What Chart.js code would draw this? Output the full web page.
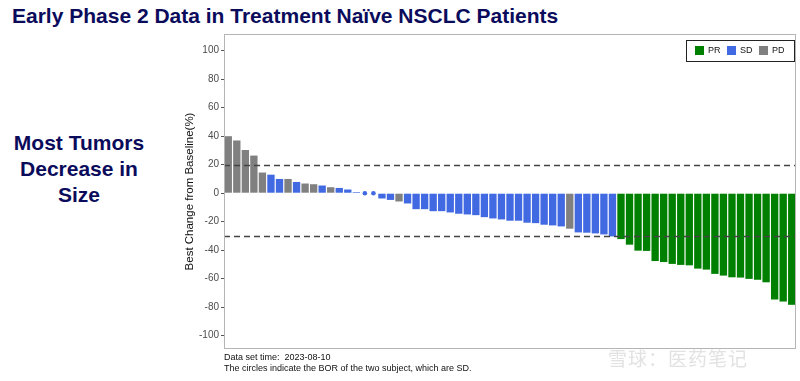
<!DOCTYPE html>
<html>
<head>
<meta charset="utf-8">
<script src="https://cdn.jsdelivr.net/npm/chart.js@4/dist/chart.umd.min.js"></script>
<style>
  html, body { margin: 0; padding: 0; background: #fff; }
  body { width: 800px; height: 381px; position: relative; overflow: hidden; font-family: "Liberation Sans", Arial, sans-serif; }
  #title { position: absolute; left: 12px; top: 4px; font-size: 21px; font-weight: bold; color: #0b0b5c; white-space: nowrap; }
  #side { position: absolute; left: 0; width: 158px; top: 130px; font-size: 21px; font-weight: bold; color: #0b0b5c; text-align: center; line-height: 26px; }
  #note { position: absolute; left: 224px; top: 352px; font-size: 9px; color: #111; line-height: 11px; }
  #wm { position: absolute; left: 608px; top: 344px; font-size: 19px; color: #e2e2e2; font-family: "Noto Sans CJK SC", sans-serif; letter-spacing: 1px; }
  #wrap { position: absolute; left: 0; top: 0; width: 800px; height: 381px; }
</style>
</head>
<body>
<div id="title">Early Phase 2 Data in Treatment Naïve NSCLC Patients</div>
<div id="side">Most Tumors<br>Decrease in<br>Size</div>
<div id="wrap"><canvas id="waterfall"></canvas></div>
<div id="note">Data set time:&nbsp; 2023-08-10<br>The circles indicate the BOR of the two subject, which are SD.</div>
<div id="wm">雪球：医药笔记</div>
<script>
// best % change per patient, sorted
var changes = [40, 37, 30.3, 26.4, 14.5, 13, 10, 10, 7.9, 6.8, 6.3, 5.4, 4.2, 3.7, 2.6, 0.8, 0, 0,
  -3.7, -4.7, -5.8, -7.2, -11.2, -11.2, -12.6, -12.6, -13.5, -14.4, -14.9, -15.4, -16.8, -17.7,
  -18.4, -19.3, -19.3, -20.7, -21, -22.1, -22.6, -23.3, -24.9, -27.5, -27.7, -28.2, -28.9, -30.3,
  -32.2, -36.1, -40.3, -40.5, -47.6, -48.3, -49.6, -50.3, -50.6, -52.9, -53.6, -56.6, -57.8, -59,
  -59.2, -60.1, -60.8, -62.5, -74.6, -76, -78.3];
var bor = ['PD','PD','PD','PD','PD','SD','SD','PD','SD','PD','PD','SD','PD','SD','SD','SD','SD','SD','SD','SD','PD',
  'SD','SD','SD','SD','SD','SD','SD','SD','SD','SD','SD','SD','SD','SD','SD','SD','SD','SD','SD','PD',
  'SD','SD','SD','SD','SD',
  'PR','PR','PR','PR','PR','PR','PR','PR','PR','PR','PR','PR','PR','PR','PR','PR','PR','PR','PR','PR','PR'];
var circlePatients = [16, 17];
var legendCats = ['PR', 'SD', 'PD'];
var yTicks = [-100, -80, -60, -40, -20, 0, 20, 40, 60, 80, 100];
var refLines = [20, -30];

var colors = { PR: '#008000', SD: '#4169e1', PD: '#808080' };
var labels = changes.map(function (v, i) { return 'P' + (i + 1); });
var circleData = changes.map(function (v, i) { return circlePatients.indexOf(i) >= 0 ? v : null; });

var frame = {
  id: 'frame',
  afterDatasetsDraw: function (chart) {
    var ctx = chart.ctx, a = chart.chartArea, y = chart.scales.y;
    ctx.save();
    // dashed reference lines
    ctx.strokeStyle = '#444';
    ctx.lineWidth = 1.3;
    ctx.setLineDash([6, 4]);
    refLines.forEach(function (v) {
      var py = Math.round(y.getPixelForValue(v)) + 0.5;
      ctx.beginPath(); ctx.moveTo(a.left, py); ctx.lineTo(a.right, py); ctx.stroke();
    });
    ctx.setLineDash([]);
    // panel border
    ctx.strokeStyle = '#b5b5b5';
    ctx.lineWidth = 1;
    ctx.strokeRect(a.left + 0.5, a.top + 0.5, a.right - a.left - 1, a.bottom - a.top - 1);
    // legend
    var lx = a.right - 110, ly = a.top + 6, lw = 108, lh = 21;
    ctx.fillStyle = '#fff';
    ctx.fillRect(lx, ly, lw, lh);
    ctx.strokeStyle = '#222';
    ctx.strokeRect(lx + 0.5, ly + 0.5, lw, lh);
    ctx.font = '9px "Liberation Sans", Arial, sans-serif';
    ctx.textBaseline = 'middle';
    var x = lx + 9;
    legendCats.forEach(function (c) {
      ctx.fillStyle = colors[c];
      ctx.fillRect(x, ly + 6, 9, 9);
      ctx.fillStyle = '#111';
      ctx.fillText(c, x + 13, ly + 11);
      x += 32;
    });
    ctx.restore();
  }
};

new Chart(document.getElementById('waterfall'), {
  data: {
    labels: labels,
    datasets: [
      {
        type: 'line',
        data: circleData,
        showLine: false,
        pointRadius: 2.3,
        pointBackgroundColor: colors.SD,
        pointBorderWidth: 0,
        order: 0
      },
      {
        type: 'bar',
        data: changes,
        backgroundColor: bor.map(function (b) { return colors[b]; }),
        borderWidth: 0,
        barPercentage: 0.86,
        categoryPercentage: 1,
        order: 1
      }
    ]
  },
  options: {
    responsive: true,
    maintainAspectRatio: false,
    animation: false,
    layout: { padding: { left: 174, top: 34, right: 3, bottom: 32 } },
    plugins: { legend: { display: false }, tooltip: { enabled: false } },
    scales: {
      x: { display: false, offset: true },
      y: {
        min: -109.3,
        max: 111.7,
        afterBuildTicks: function (s) { s.ticks = yTicks.map(function (v) { return { value: v }; }); },
        afterFit: function (s) { s.width = 50; },
        grid: { drawOnChartArea: false, tickLength: 3, color: '#555' },
        border: { display: false },
        ticks: { color: '#4d4d4d', font: { size: 10, family: '"Liberation Sans", Arial, sans-serif' }, padding: 2 },
        title: {
          display: true,
          text: 'Best Change from Baseline(%)',
          color: '#111',
          font: { size: 11.5, family: '"Liberation Sans", Arial, sans-serif' },
          padding: { top: 9, bottom: 0 }
        }
      }
    }
  },
  plugins: [frame]
});
</script>
</body>
</html>
